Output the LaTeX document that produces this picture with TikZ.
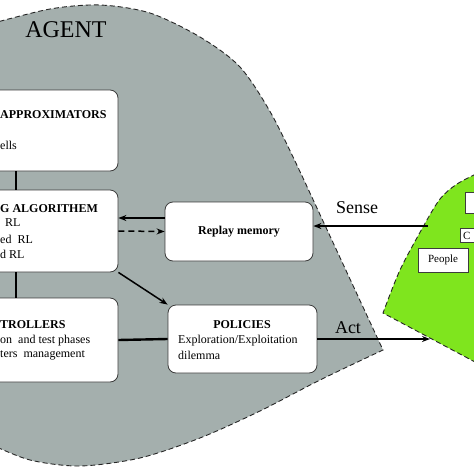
\documentclass[tikz,border=0pt]{standalone}
\usepackage{fontspec}
\setmainfont{Liberation Serif}
\usetikzlibrary{arrows.meta,positioning}

\definecolor{agentgray}{RGB}{164,175,173}
\definecolor{envgreen}{RGB}{127,229,30}
\definecolor{boxedge}{RGB}{60,60,60}

\tikzset{
  agentzone/.style={fill=agentgray, draw=black!85, line width=0.9pt, dash pattern=on 5pt off 3pt},
  envzone/.style={fill=envgreen, draw=black!85, line width=0.9pt, dash pattern=on 5pt off 3pt},
  roundbox/.style={draw=boxedge, fill=white, rounded corners=8pt, line width=0.8pt, inner sep=0pt},
  squarebox/.style={draw=boxedge, fill=white, line width=0.8pt, inner sep=0pt},
  flow/.style={line width=1.5pt, -{Stealth[length=8pt,width=6pt]}},
  link/.style={line width=1.5pt},
  heavylink/.style={line width=2.4pt},
  boxtitle/.style={font=\fontsize{12}{14}\selectfont\bfseries, inner sep=0pt},
  boxtext/.style={font=\fontsize{12}{14}\selectfont, inner sep=0pt},
  flowlabel/.style={font=\fontsize{18}{20}\selectfont, inner sep=0pt}
}

\begin{document}
\begin{tikzpicture}[x=1pt,y=-1pt]
\useasboundingbox (0,0) rectangle (474,474);
\clip (0,0) rectangle (474,474);

    % Agent region
    \draw[agentzone] plot[smooth,tension=0.5] coordinates {(-10,444) (30,460) (80,466) (140,458) (200,438) (260,411) (320,380) (383,350)}
      -- plot[smooth,tension=0.5] coordinates {(303,178) (272,115) (240,67) (200,37) (150,13) (100,5) (50,9) (-10,24)} -- cycle;

    % Environment region
    \draw[envzone] (490,370) -- (383,313)
      -- plot[smooth,tension=0.5] coordinates {(383,313) (400,270) (423,227) (440,199) (457,184) (480,172)} -- cycle;

\node[font=\fontsize{24}{26}\selectfont, inner sep=0pt] (agentname) at (66,30) {AGENT};

    % Boxes of the agent
    \node[roundbox, minimum width=148pt, minimum height=81pt] (approxbox) at (44,130.5) {};
    \node[roundbox, minimum width=148pt, minimum height=82pt] (algobox) at (44,231) {};
    \node[roundbox, minimum width=148pt, minimum height=84pt] (ctrlbox) at (44,340) {};
    \node[roundbox, minimum width=148pt, minimum height=59pt, font=\fontsize{12}{14}\selectfont\bfseries] (replay) at (239,231.5) {Replay memory};
    \node[roundbox, minimum width=149pt, minimum height=68pt] (policies) at (242.5,339) {};

    % Texts in the boxes
    \node[boxtitle, anchor=west] (approxtitle) at (0,115) {APPROXIMATORS};
    \node[boxtext, anchor=west] (approxline) at (0,145) {ells};
    \node[boxtitle, anchor=west] (algotitle) at (0,209) {G ALGORITHEM};
    \node[boxtext, anchor=west] (algolineA) at (5,223) {RL};
    \node[boxtext, anchor=west] (algolineB) at (0,239) {ed\ \ RL};
    \node[boxtext, anchor=west] (algolineC) at (0,254) {d RL};
    \node[boxtitle, anchor=west] (ctrltitle) at (0,325) {TROLLERS};
    \node[boxtext, anchor=west] (ctrllineA) at (0,341) {on\ \ and test phases};
    \node[boxtext, anchor=west] (ctrllineB) at (0,355) {ters\ \ management};
    \node[boxtitle] (poltitle) at (242,325) {POLICIES};
    \node[boxtext, anchor=west] (polline) at (178,341) {Exploration/Exploitation};
    \node[boxtext, anchor=west] (poldilemma) at (178,355) {dilemma};

    % Boxes of the environment
    \node[squarebox, anchor=north west, minimum width=30pt, minimum height=21pt] (topbox) at (465,192) {};
    \node[squarebox, anchor=north west, minimum width=30pt, minimum height=14pt] (midbox) at (460,228) {};
    \node[boxtext, anchor=west, font=\fontsize{11}{12}\selectfont] (midlabel) at (463,235.5) {C};
    \node[squarebox, minimum width=50pt, minimum height=24pt, font=\fontsize{11}{12}\selectfont] (people) at (443,260) {People};

    % Connectors
    \coordinate (linkx) at (16,0);
    \draw[link] (approxbox.south -| linkx) -- (algobox.north -| linkx);
    \draw[link] (algobox.south -| linkx) -- (ctrlbox.north -| linkx);
    \coordinate (replayout) at ([yshift=13.5pt]replay.west);
    \draw[flow] (replayout) -- (replayout -| algobox.east);
    \draw[flow, dash pattern=on 6pt off 4pt] (algobox.east) -- (replay.west);
    \draw[flow] (algobox.south east) -- (policies.north west);
    \draw[heavylink] (ctrlbox.east) -- (policies.west);

    \coordinate (senseorigin) at (428,226);
    \draw[flow] (senseorigin) -- (senseorigin -| replay.east);
    \node[flowlabel] (senselabel) at (357,208) {Sense};
    \coordinate (acttarget) at (430,339);
    \draw[flow] (policies.east) -- (acttarget);
    \node[flowlabel] (actlabel) at (348,328) {Act};

\end{tikzpicture}
\end{document}
